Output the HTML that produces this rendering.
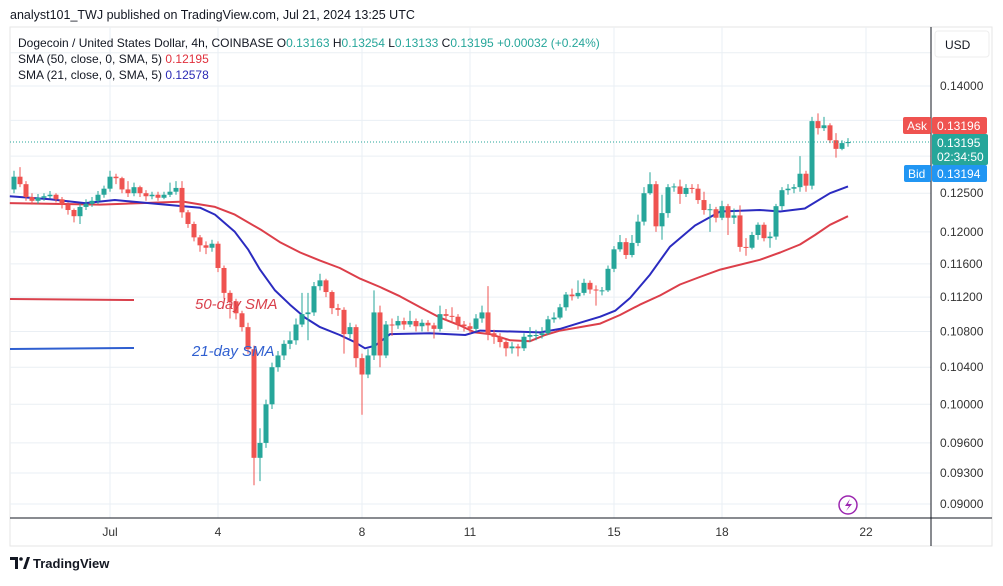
<!DOCTYPE html>
<html><head><meta charset="utf-8">
<style>
body{margin:0;background:#fff;width:1003px;height:581px;overflow:hidden;font-family:"Liberation Sans",sans-serif;}
svg text{font-family:"Liberation Sans",sans-serif;}
</style></head>
<body>
<svg id="chart" width="1003" height="581" viewBox="0 0 1003 581" xmlns="http://www.w3.org/2000/svg">
<text x="10" y="19" font-size="12.5" fill="#131722">analyst101_TWJ published on TradingView.com, Jul 21, 2024 13:25 UTC</text>
<rect x="10" y="27" width="982" height="519" fill="#fff" stroke="#e6e6e6"/>
<g id="grid"></g>
<g id="sma"></g>
<g id="candles"></g>
<line x1="10" y1="142" x2="931" y2="142" stroke="#26a69a" stroke-dasharray="1,2"/>
<line x1="931" y1="27" x2="931" y2="546" stroke="#131722"/>
<line x1="10" y1="518" x2="992" y2="518" stroke="#131722"/>
<g id="yaxis"></g>
<g id="xaxis"></g>
<rect x="935" y="31" width="54" height="26" rx="3" fill="#fff" stroke="#eee"/>
<text x="945" y="49" font-size="12" fill="#131722">USD</text>
<g font-size="12">
<text x="18" y="47" fill="#131722">Dogecoin / United States Dollar, 4h, COINBASE  O<tspan fill="#26a69a">0.13163</tspan> H<tspan fill="#26a69a">0.13254</tspan> L<tspan fill="#26a69a">0.13133</tspan> C<tspan fill="#26a69a">0.13195 +0.00032 (+0.24%)</tspan></text>
<text x="18" y="63" fill="#131722">SMA (50, close, 0, SMA, 5)  <tspan fill="#e0303c">0.12195</tspan></text>
<text x="18" y="79" fill="#131722">SMA (21, close, 0, SMA, 5)  <tspan fill="#2a2ab5">0.12578</tspan></text>
</g>
<line x1="10" y1="299" x2="134" y2="300" stroke="#d9414c" stroke-width="2"/>
<line x1="10" y1="349" x2="134" y2="348" stroke="#2f5fd0" stroke-width="2"/>
<text x="195" y="309" font-size="15" font-style="italic" fill="#d9414c">50-day SMA</text>
<text x="192" y="356" font-size="15" font-style="italic" fill="#2f5fd0">21-day SMA</text>
<rect x="903" y="117" width="28" height="17" rx="2" fill="#ef5350"/>
<text x="907" y="130" font-size="12" fill="#fff">Ask</text>
<rect x="932" y="117" width="55" height="17" rx="2" fill="#ef5350"/>
<text x="937" y="130" font-size="12" fill="#fff">0.13196</text>
<rect x="932" y="134" width="56" height="31" rx="2" fill="#26a69a"/>
<text x="937" y="147" font-size="12" fill="#fff">0.13195</text>
<text x="937" y="161" font-size="12" fill="#fff">02:34:50</text>
<rect x="904" y="165" width="27" height="17" rx="2" fill="#2196f3"/>
<text x="908" y="178" font-size="12" fill="#fff">Bid</text>
<rect x="932" y="165" width="55" height="17" rx="2" fill="#2196f3"/>
<text x="937" y="178" font-size="12" fill="#fff">0.13194</text>
<g><circle cx="848" cy="505" r="9" fill="none" stroke="#9c27b0" stroke-width="1.5"/><path d="M850 499 L845 506 L849 506 L846 511 L852 504 L848 504 Z" fill="#9c27b0"/></g>
<g><path d="M10 557 h8 v12 h-3 v-9 h-5 z" fill="#131722"/><circle cx="21" cy="559" r="1.8" fill="#131722"/><path d="M23 569 l4 -12 h3 l-4 12 z" fill="#131722"/>
<text x="33" y="568" font-size="13" font-weight="bold" fill="#131722">TradingView</text></g>
</svg>
<script>
const startIndex = -16;
const firstOpen = 0.1255;
const closes = [0.1272,0.1262,0.1245,0.1240,0.1244,0.1246,0.1248,0.1242,0.1235,0.1228,0.1220,0.1232,0.1236,0.1240,0.1248,0.1256,
0.1272,0.1270,0.1255,0.1250,0.1258,0.1250,0.1246,0.1248,0.1244,0.1248,0.1252,0.1257,0.1225,0.1210,0.1193,0.1183,0.1180,0.1185,0.1155,0.1125,
0.1115,0.1101,0.1085,0.1060,0.0945,0.0960,0.1000,0.1040,0.1053,0.1066,0.1070,0.1088,0.1100,0.1102,0.1133,0.1140,0.1126,0.1107,0.1105,0.1077,
0.1085,0.1050,0.1032,0.1053,0.1102,0.1053,0.1088,0.1087,0.1092,0.1088,0.1092,0.1086,0.1090,0.1087,0.1083,0.1100,0.1098,0.1097,0.1088,0.1086,
0.1083,0.1095,0.1102,0.1078,0.1074,0.1068,0.1061,0.1063,0.1061,0.1074,0.1076,0.1076,0.1078,0.1094,0.1096,0.1108,0.1123,0.1121,0.1125,0.1137,
0.1129,0.1128,0.1128,0.1154,0.1178,0.1187,0.1171,0.1186,0.1213,0.1250,0.1262,0.1207,0.1224,0.1258,0.1259,0.1249,0.1257,0.1256,0.1241,0.1228,
0.1229,0.1218,0.1233,0.1218,0.1221,0.1181,0.1180,0.1196,0.1209,0.1192,0.1194,0.1233,0.1254,0.1256,0.1258,0.1276,0.1260,0.1349,0.1339,0.1343,
0.1322,0.1310,0.1318,0.13195];
const highs = [0.1280,0.1285,0.1266,0.1250,0.1249,0.1250,0.1253,0.1250,0.1245,0.1238,0.1230,0.1236,0.1242,0.1245,0.1253,0.1260,
0.1280,0.1276,0.1272,0.1266,0.1264,0.1260,0.1254,0.1252,0.1252,0.1252,0.1264,0.1266,0.1266,0.1228,0.1213,0.1196,0.1188,0.1190,0.1188,0.1158,
0.1128,0.1118,0.1104,0.1090,0.1064,0.0975,0.1005,0.1045,0.1058,0.1070,0.1080,0.1095,0.1125,0.1125,0.1138,0.1148,0.1142,0.1128,0.1112,0.1108,
0.1090,0.1088,0.1055,0.1060,0.1128,0.1110,0.1092,0.1095,0.1098,0.1096,0.1104,0.1095,0.1094,0.1093,0.1090,0.1110,0.1106,0.1108,0.1100,0.1092,
0.1090,0.1100,0.1110,0.1133,0.1082,0.1078,0.1070,0.1068,0.1066,0.1078,0.1085,0.1082,0.1085,0.1098,0.1102,0.1112,0.1126,0.1130,0.1140,0.1142,
0.1140,0.1134,0.1132,0.1158,0.1182,0.1196,0.1192,0.1196,0.1222,0.1258,0.1278,0.1266,0.1248,0.1262,0.1263,0.1268,0.1262,0.1262,0.1262,0.1252,
0.1236,0.1232,0.1240,0.1236,0.1230,0.1234,0.1192,0.1200,0.1212,0.1212,0.1200,0.1236,0.1258,0.1262,0.1262,0.1300,0.1280,0.1355,0.1360,0.1355,
0.1346,0.1332,0.1322,0.1325];
const lows = [0.1250,0.1258,0.1240,0.1235,0.1236,0.1240,0.1243,0.1238,0.1230,0.1222,0.1212,0.1210,0.1228,0.1232,0.1236,0.1244,
0.1252,0.1262,0.1250,0.1245,0.1246,0.1245,0.1240,0.1242,0.1240,0.1242,0.1245,0.1248,0.1218,0.1205,0.1188,0.1175,0.1172,0.1175,0.1150,0.1118,
0.1095,0.1094,0.1080,0.1055,0.0918,0.0922,0.0955,0.0995,0.1035,0.1048,0.1060,0.1065,0.1085,0.1070,0.1098,0.1128,0.1120,0.1100,0.1098,0.1055,
0.1072,0.1040,0.0989,0.1028,0.1048,0.1040,0.1050,0.1075,0.1083,0.1082,0.1085,0.1080,0.1080,0.1080,0.1072,0.1080,0.1092,0.1090,0.1082,0.1080,
0.1078,0.1080,0.1090,0.1070,0.1066,0.1062,0.1052,0.1055,0.1052,0.1058,0.1068,0.1070,0.1072,0.1076,0.1090,0.1094,0.1104,0.1116,0.1118,0.1122,
0.1124,0.1110,0.1122,0.1126,0.1150,0.1175,0.1166,0.1168,0.1182,0.1208,0.1248,0.1200,0.1190,0.1218,0.1252,0.1236,0.1245,0.1250,0.1236,0.1222,
0.1200,0.1212,0.1215,0.1196,0.1210,0.1175,0.1170,0.1178,0.1190,0.1188,0.1180,0.1190,0.1228,0.1248,0.1250,0.1252,0.1252,0.1255,0.1330,0.1335,
0.1318,0.1298,0.1308,0.1313];
const sma21Bars = [-16.7,-10,-4.2,0.8,9.2,15,17.5,20.8,23,25,27.5,30,32.5,35,38.3,40.8,42.5,44.2,46.7,53.3,59.2,61.7,71.7,75,78.3,81.7,84.2,86.7,90,93.3,97.5,101.7,108.3,111.7,115.8,120,123];
const sma21Values = [0.1246,0.1242,0.1237,0.1241,0.1235,0.1231,0.1222,0.1200,0.1178,0.1153,0.1128,0.1111,0.1096,0.1085,0.1076,0.1068,0.1061,0.1064,0.1077,0.1078,0.1076,0.1081,0.1079,0.1083,0.1090,0.1097,0.1104,0.1119,0.1147,0.1181,0.1208,0.1226,0.1228,0.1226,0.1230,0.1250,0.1259];
const sma50Bars = [-16.7,-1.7,12.2,17.5,20.8,25.3,28.3,31.7,35,38.3,41.7,45,48.3,51.7,55,58.3,60.8,63.3,66.7,70,72.5,75,81.7,85,88.3,91.7,95,98.3,101.7,108.3,111.7,115,117.5,120,123];
const sma50Values = [0.1237,0.1235,0.1239,0.1232,0.1222,0.1202,0.1187,0.1174,0.1164,0.1155,0.1142,0.1132,0.1121,0.1108,0.1096,0.1087,0.1079,0.1077,0.1070,0.1069,0.1076,0.1081,0.1089,0.1099,0.1111,0.1122,0.1135,0.1144,0.1153,0.1165,0.1174,0.1184,0.1196,0.1209,0.1220];
const priceTicks = [0.145,0.14,0.135,0.13,0.125,0.12,0.116,0.112,0.108,0.104,0.10,0.096,0.093,0.09];
const priceTickLabels = ["","0.14000","","","0.12500","0.12000","0.11600","0.11200","0.10800","0.10400","0.10000","0.09600","0.09300","0.09000"];
const dateTickBars = [0,18,42,60,84,102,126];
const dateTickLabels = ["Jul","4","8","11","15","18","22"];

const NS="http://www.w3.org/2000/svg";
function yScale(p){return 86+(Math.log(0.14)-Math.log(p))*946;}
function xScale(k){return 110+k*6;}
function mk(tag,attrs,parent){const e=document.createElementNS(NS,tag);for(const a in attrs)e.setAttribute(a,attrs[a]);parent.appendChild(e);return e;}
const grid=document.getElementById('grid'),ya=document.getElementById('yaxis'),xa=document.getElementById('xaxis');
priceTicks.forEach((p,i)=>{const y=yScale(p);
 const l=mk('line',{x1:10,x2:931,y1:y,y2:y,stroke:'#eaeff4'},grid);
 
 
 if(priceTickLabels[i]){const t=mk('text',{x:940,y:y+4,'font-size':12,fill:'#333'},ya);t.textContent=priceTickLabels[i];
 
 }
});
dateTickBars.forEach((k,i)=>{const x=xScale(k);
 const l=mk('line',{x1:x,x2:x,y1:27,y2:518,stroke:'#eaeff4'},grid);
 
 
 const t=mk('text',{x:x,y:536,'font-size':12,fill:'#333','text-anchor':'middle'},xa);t.textContent=dateTickLabels[i];
 
 
});
const smaG=document.getElementById('sma');
function line(bars,vals,color,name){const d=bars.map((k,i)=>(i?'L':'M')+xScale(k).toFixed(1)+' '+yScale(vals[i]).toFixed(1)).join(' ');
 const p=mk('path',{d:d,fill:'none',stroke:color,'stroke-width':2,'stroke-linejoin':'round'},smaG);
 
 }
line(sma50Bars,sma50Values,'#dc3f4a','sma50-line');
line(sma21Bars,sma21Values,'#2b2bc0','sma21-line');
const cg=document.getElementById('candles');
closes.forEach((c,i)=>{const o=i?closes[i-1]:firstOpen;const k=startIndex+i;const x=xScale(k);
 const up=c>=o;const col=up?'#26a69a':'#ef5350';
 const g=mk('g',{},cg);
 
 
 mk('line',{x1:x,x2:x,y1:yScale(highs[i]),y2:yScale(lows[i]),stroke:col,'stroke-width':1},g);
 const top=yScale(Math.max(o,c)),bot=yScale(Math.min(o,c));
 mk('rect',{x:x-2.5,y:top,width:5,height:Math.max(1,bot-top),fill:col},g);
});
</script>
</body></html>
